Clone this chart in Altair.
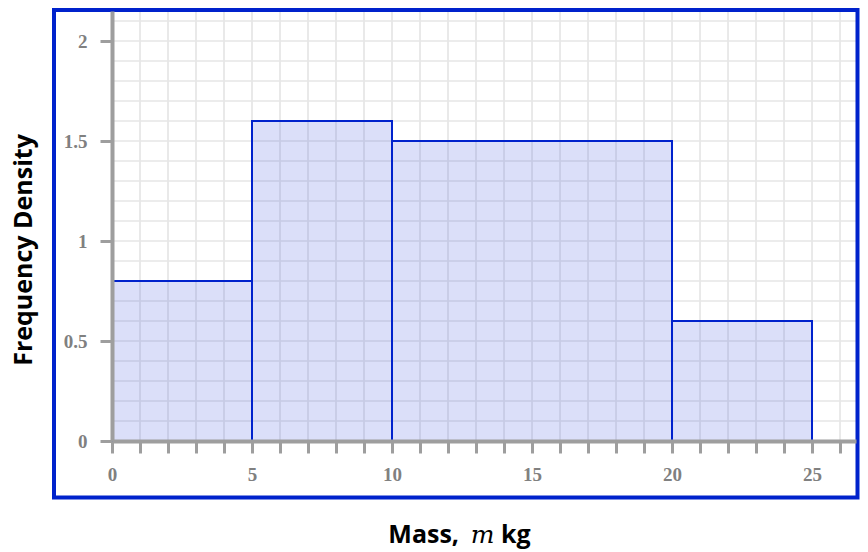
import altair as alt
import pandas as pd

# ---- data ----
bin_start = [0, 5, 10, 20]
bin_end = [5, 10, 20, 25]
freq_density = [0.8, 1.6, 1.5, 0.6]

x_tick_values = [0, 1, 2, 3, 4, 5, 6, 7, 8, 9, 10, 11, 12, 13, 14, 15, 16, 17,
                 18, 19, 20, 21, 22, 23, 24, 25, 26]
y_tick_values = [0, 0.5, 1, 1.5, 2]
y_grid_values = [0, 0.1, 0.2, 0.3, 0.4, 0.5, 0.6, 0.7, 0.8, 0.9, 1.0, 1.1,
                 1.2, 1.3, 1.4, 1.5, 1.6, 1.7, 1.8, 1.9, 2.0, 2.1]

x_title_parts = ["Mass,", "m", "kg"]
y_title = "Frequency Density"

bars = pd.DataFrame({"start": bin_start, "end": bin_end, "fd": freq_density})
gx = pd.DataFrame({"v": x_tick_values})
gy = pd.DataFrame({"v": y_grid_values})
one = pd.DataFrame({"k": [0]})

BLUE = "#0022cc"
AXIS_GRAY = "#9e9e9e"
LABEL_GRAY = "#808080"
GRID = "#e6e6e6"

xs = alt.Scale(domain=[0, 26.571], nice=False, zero=False)
ys = alt.Scale(domain=[0, 2.15], nice=False, zero=False)

x_axis = alt.Axis(
    values=x_tick_values, title=None, grid=False, zindex=1,
    domainColor=AXIS_GRAY, domainWidth=4,
    tickColor=AXIS_GRAY, tickWidth=3, tickSize=12,
    labelExpr="datum.value % 5 == 0 ? datum.label : ''",
    labelFont="Liberation Serif", labelFontWeight="bold", labelFontSize=19,
    labelColor=LABEL_GRAY, labelPadding=12, labelFlush=False, labelOverlap=False,
    format="~g",
)
y_axis = alt.Axis(
    values=y_tick_values, title=None, grid=False, zindex=1,
    domainColor=AXIS_GRAY, domainWidth=4,
    tickColor=AXIS_GRAY, tickWidth=3, tickSize=12,
    labelFont="Liberation Serif", labelFontWeight="bold", labelFontSize=19,
    labelColor=LABEL_GRAY, labelPadding=13, labelFlush=False, labelOverlap=False,
    format="~g",
)

grid_x = alt.Chart(gx).mark_rule(color=GRID, strokeWidth=1.7).encode(
    x=alt.X("v:Q", scale=xs, axis=x_axis)
)
grid_y = alt.Chart(gy).mark_rule(color=GRID, strokeWidth=1.7).encode(
    y=alt.Y("v:Q", scale=ys, axis=y_axis)
)

hist = alt.Chart(bars).mark_rect(
    fill="#4a5fe0", fillOpacity=0.2, stroke=BLUE, strokeWidth=2
).encode(
    x=alt.X("start:Q", scale=xs, axis=x_axis),
    x2="end:Q",
    y=alt.Y("fd:Q", scale=ys, axis=y_axis),
    y2=alt.datum(0),
)

frame = alt.Chart(one).mark_rect(
    fillOpacity=0, stroke=BLUE, strokeWidth=4
).encode(
    x=alt.value(-58), x2=alt.value(745.5), y=alt.value(-1), y2=alt.value(486.5)
)

ytitle = alt.Chart(one).mark_text(
    text=y_title, font="Open Sans", fontWeight="bold", fontSize=25,
    color="black", angle=270, align="center", baseline="middle"
).encode(x=alt.value(-88), y=alt.value(239))

xt1 = alt.Chart(one).mark_text(
    text=x_title_parts[0], font="Open Sans", fontWeight="bold", fontSize=25,
    color="black", align="right", baseline="alphabetic"
).encode(x=alt.value(347), y=alt.value(531.5))
xt2 = alt.Chart(one).mark_text(
    text=x_title_parts[1], font="DejaVu Serif", fontStyle="italic", fontSize=25,
    color="black", align="center", baseline="alphabetic"
).encode(x=alt.value(370.5), y=alt.value(531.5))
xt3 = alt.Chart(one).mark_text(
    text=x_title_parts[2], font="Open Sans", fontWeight="bold", fontSize=25,
    color="black", align="left", baseline="alphabetic"
).encode(x=alt.value(389), y=alt.value(531.5))

chart = alt.layer(grid_x, grid_y, hist, frame, ytitle, xt1, xt2, xt3).properties(
    width=744, height=430,
    autosize="none",
    padding={"left": 104, "top": 3, "right": 4, "bottom": 111},
    background="white",
).configure_view(stroke=None)

chart.save("out.html", embed_options={"renderer": "svg", "actions": False})
